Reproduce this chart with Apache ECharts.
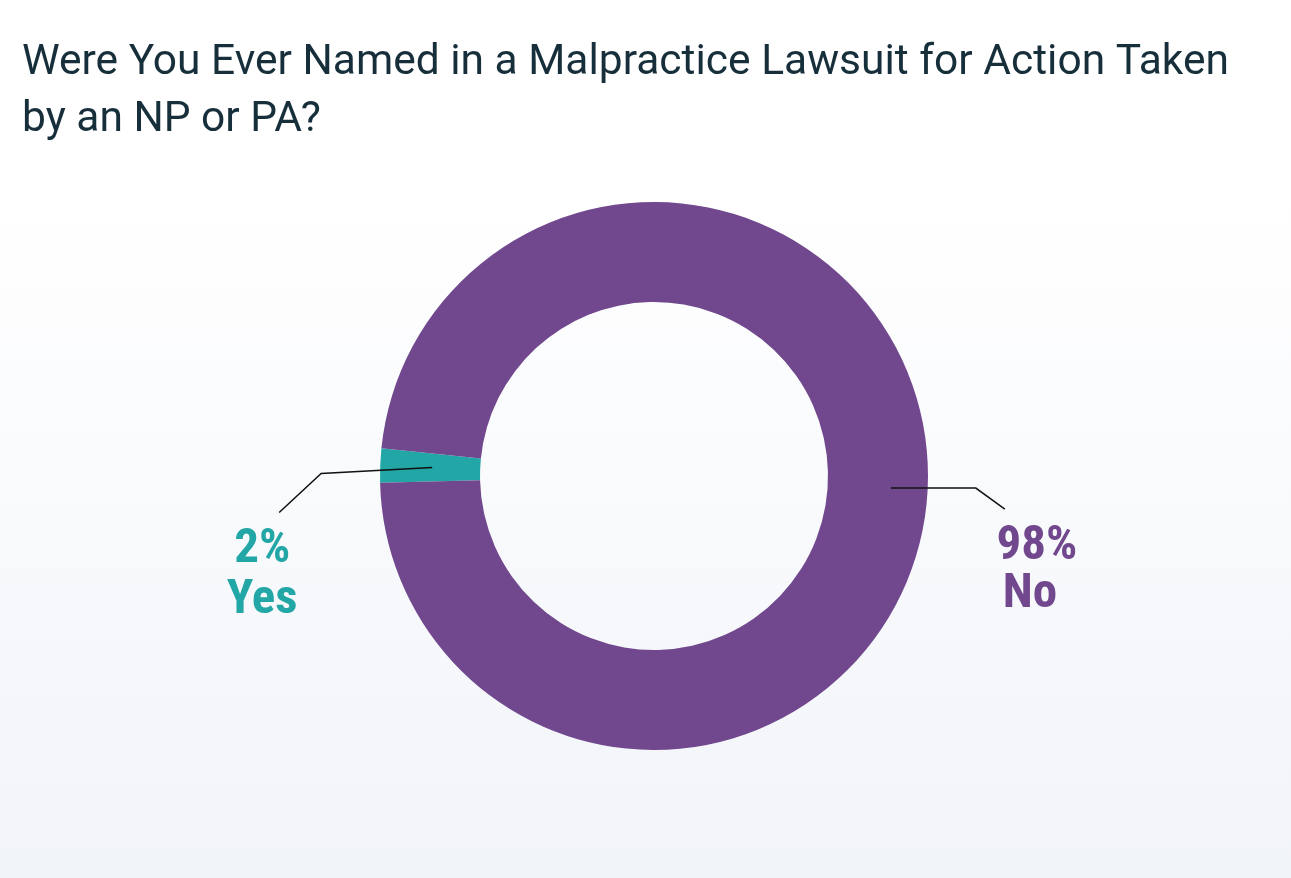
<!DOCTYPE html>
<html>
<head>
<meta charset="utf-8">
<style>
  html, body { margin: 0; padding: 0; }
  #main { width: 1291px; height: 878px; }
</style>
<script src="https://cdn.jsdelivr.net/npm/echarts@6/dist/echarts.min.js"></script>
</head>
<body>
<div id="main"></div>
<script>
// ---- data ----
const categories = ['Yes', 'No'];
const values = [2, 98];
const titleText = 'Were You Ever Named in a Malpractice Lawsuit for Action Taken\nby an NP or PA?';

// ---- styles ----
const colors = ['#22a6a6', '#71488e'];
// label line geometry per slice (relative offsets, pixels)
const lineGeom = [
  { inset: 52, shift: [0, 0], seg1: [-111, 6], seg2: [-42, 39], label: [-17, 12] },
  { inset: 37, shift: [0, 3], seg1: [85, 0], seg2: [29, 21], label: [32, 14] }
];
const labelRich = [
  { v: { lineHeight: 51 }, n: { lineHeight: 51, padding: [0, 0, 0, 0] } },
  { v: { lineHeight: 48 }, n: { lineHeight: 48, padding: [0, 14, 0, 0] } }
];

const chart = echarts.init(document.getElementById('main'), null, { renderer: 'canvas' });

const ringCenter = [654, 476];
const ringRadius = [174, 274];
const labelFont = '"Liberation Sans Narrow", "Roboto Condensed", Roboto, sans-serif';

const option = {
  backgroundColor: {
    type: 'linear', x: 0, y: 0, x2: 0, y2: 1,
    colorStops: [
      { offset: 0, color: '#ffffff' },
      { offset: 0.22, color: '#ffffff' },
      { offset: 1, color: '#f1f4f9' }
    ]
  },
  title: {
    text: titleText,
    left: 22,
    top: 35,
    padding: 0,
    textStyle: {
      fontFamily: 'Roboto',
      fontWeight: 'normal',
      fontSize: 42.5,
      lineHeight: 57,
      color: '#172f3b'
    }
  },
  series: [{
    // the ring itself
    type: 'pie',
    z: 2,
    center: ringCenter,
    radius: ringRadius,
    startAngle: 181.4,
    clockwise: true,
    silent: true,
    emphasis: { disabled: true },
    itemStyle: { borderWidth: 0 },
    label: { show: false },
    labelLine: { show: false },
    data: categories.map((name, i) => ({
      name: name,
      value: values[i],
      itemStyle: { color: colors[i] }
    }))
  }, {
    // same ring, transparent, drawn on top: carries labels and label lines
    type: 'pie',
    z: 5,
    center: ringCenter,
    radius: ringRadius,
    startAngle: 181.4,
    clockwise: true,
    silent: true,
    avoidLabelOverlap: false,
    emphasis: { disabled: true },
    itemStyle: { color: 'rgba(0,0,0,0)', borderWidth: 0 },
    label: {
      show: true,
      formatter: '{v|{c}%}\n{n|{b}}',
      fontFamily: labelFont,
      fontWeight: 'bold',
      fontSize: 49,
      align: 'center'
    },
    labelLine: {
      show: true,
      length: 20,
      length2: 20,
      smooth: false,
      lineStyle: { color: '#111111', width: 1.5 }
    },
    labelLayout: function (params) {
      const g = lineGeom[params.dataIndex];
      const pts = params.labelLinePoints;
      if (!g || !pts) return {};
      const a = pts[0], b = pts[1];
      let dx = b[0] - a[0], dy = b[1] - a[1];
      const len = Math.sqrt(dx * dx + dy * dy) || 1;
      dx /= len; dy /= len;
      const p0 = [a[0] - dx * g.inset + g.shift[0], a[1] - dy * g.inset + g.shift[1]];
      const p1 = [p0[0] + g.seg1[0], p0[1] + g.seg1[1]];
      const p2 = [p1[0] + g.seg2[0], p1[1] + g.seg2[1]];
      return {
        x: p2[0] + g.label[0],
        y: p2[1] + g.label[1],
        align: 'center',
        verticalAlign: 'top',
        labelLinePoints: [p0, p1, p2]
      };
    },
    data: categories.map((name, i) => ({
      name: name,
      value: values[i],
      label: {
        color: colors[i],
        rich: {
          v: Object.assign({ color: colors[i], fontFamily: labelFont, fontWeight: 'bold', fontSize: 49 }, labelRich[i].v),
          n: Object.assign({ color: colors[i], fontFamily: labelFont, fontWeight: 'bold', fontSize: 49 }, labelRich[i].n)
        }
      }
    }))
  }]
};

chart.setOption(option);
</script>
</body>
</html>
